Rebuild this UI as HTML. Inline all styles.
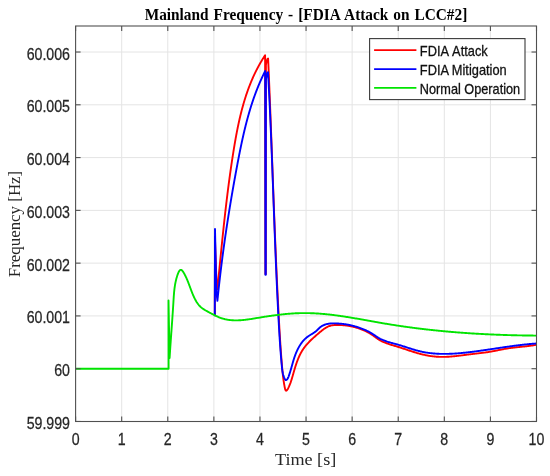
<!DOCTYPE html>
<html><head><meta charset="utf-8"><style>
html,body{margin:0;padding:0;background:#fff;}
body{width:550px;height:476px;overflow:hidden;position:relative;}
svg{position:absolute;left:0;top:0;display:block;filter:blur(0.3px);}
.tk{font-family:"Liberation Sans",Arial,sans-serif;font-size:16.3px;fill:#262626;stroke:#262626;stroke-width:0.25px;}
.lg{font-family:"Liberation Sans",Arial,sans-serif;font-size:14.4px;fill:#111;stroke:#111;stroke-width:0.3px;}
.ttl{font-family:"Liberation Serif","Times New Roman",serif;font-weight:bold;font-size:17.2px;fill:#000;}
.lab{font-family:"Liberation Serif","Times New Roman",serif;font-size:17.4px;fill:#262626;}
</style></head><body>
<svg width="550" height="476" viewBox="0 0 550 476">
<rect x="0" y="0" width="550" height="476" fill="#fff"/>
<g stroke="#e4e4e4" stroke-width="1" fill="none"><line x1="121.69" y1="26.0" x2="121.69" y2="421.5"/><line x1="167.78" y1="26.0" x2="167.78" y2="421.5"/><line x1="213.87" y1="26.0" x2="213.87" y2="421.5"/><line x1="259.96" y1="26.0" x2="259.96" y2="421.5"/><line x1="306.05" y1="26.0" x2="306.05" y2="421.5"/><line x1="352.14" y1="26.0" x2="352.14" y2="421.5"/><line x1="398.23" y1="26.0" x2="398.23" y2="421.5"/><line x1="444.32" y1="26.0" x2="444.32" y2="421.5"/><line x1="490.41" y1="26.0" x2="490.41" y2="421.5"/><line x1="75.6" y1="368.70" x2="536.5" y2="368.70"/><line x1="75.6" y1="315.92" x2="536.5" y2="315.92"/><line x1="75.6" y1="263.14" x2="536.5" y2="263.14"/><line x1="75.6" y1="210.36" x2="536.5" y2="210.36"/><line x1="75.6" y1="157.58" x2="536.5" y2="157.58"/><line x1="75.6" y1="104.80" x2="536.5" y2="104.80"/><line x1="75.6" y1="52.02" x2="536.5" y2="52.02"/></g>
<defs><clipPath id="pa"><rect x="75.6" y="26.0" width="460.90" height="395.50"/></clipPath></defs>
<g fill="none" stroke-linejoin="round" stroke-linecap="round" stroke-width="1.9" clip-path="url(#pa)">
<path d="M214.80,315.33 L215.00,240.00 L216.50,282.00 217.40,289.30 L217.47,288.60 217.54,287.90 217.61,287.19 217.68,286.49 217.75,285.79 217.82,285.09 217.89,284.39 217.95,283.69 218.02,282.99 218.09,282.28 218.16,281.58 218.23,280.88 218.30,280.18 218.37,279.48 218.44,278.78 218.50,278.08 218.57,277.38 218.64,276.68 218.71,275.98 218.78,275.28 218.85,274.58 218.92,273.88 218.98,273.17 219.05,272.47 219.12,271.77 219.19,271.07 219.26,270.37 219.33,269.67 219.40,268.98 219.46,268.28 219.53,267.58 219.60,266.88 219.67,266.18 219.74,265.48 219.81,264.78 219.88,264.08 219.95,263.38 220.01,262.68 220.08,261.98 220.15,261.28 220.22,260.58 220.29,259.88 220.36,259.19 220.43,258.49 220.50,257.79 220.57,257.09 220.64,256.39 220.71,255.69 220.77,254.99 220.84,254.30 220.91,253.60 220.98,252.90 221.05,252.20 221.12,251.50 221.19,250.80 221.26,250.11 221.33,249.41 221.40,248.71 221.47,248.01 221.54,247.31 221.61,246.62 221.68,245.92 221.75,245.22 221.83,244.52 221.90,243.83 221.97,243.13 222.04,242.43 222.11,241.73 222.18,241.04 222.25,240.34 222.32,239.64 222.40,238.94 222.47,238.25 222.54,237.55 222.61,236.85 222.68,236.15 222.76,235.46 222.83,234.76 222.90,234.06 222.98,233.37 223.05,232.67 223.12,231.97 223.20,231.27 223.27,230.58 223.34,229.88 223.42,229.18 223.49,228.49 223.56,227.79 223.64,227.09 223.71,226.40 223.79,225.70 223.86,225.00 223.94,224.31 224.01,223.61 224.09,222.91 224.17,222.22 224.24,221.52 224.32,220.82 224.39,220.13 224.47,219.43 224.55,218.74 224.63,218.04 224.70,217.34 224.78,216.65 224.86,215.95 224.94,215.25 225.01,214.56 225.09,213.86 225.17,213.17 225.25,212.47 225.33,211.77 225.41,211.08 225.49,210.38 225.57,209.68 225.65,208.99 225.73,208.29 225.81,207.60 225.89,206.90 225.97,206.20 226.05,205.51 226.14,204.81 226.22,204.12 226.30,203.42 226.38,202.72 226.47,202.03 226.55,201.33 226.63,200.63 226.72,199.94 226.80,199.24 226.89,198.55 226.97,197.85 227.06,197.15 227.14,196.46 227.23,195.76 227.31,195.07 227.40,194.37 227.49,193.67 227.57,192.98 227.66,192.28 227.75,191.59 227.84,190.89 227.92,190.19 228.01,189.50 228.10,188.80 228.19,188.11 228.28,187.41 228.37,186.71 228.46,186.02 228.55,185.32 228.64,184.63 228.74,183.93 228.83,183.23 228.92,182.54 229.01,181.84 229.10,181.15 229.20,180.45 229.29,179.75 229.39,179.06 229.48,178.36 229.58,177.66 229.67,176.97 229.77,176.27 229.86,175.57 229.96,174.88 230.06,174.18 230.15,173.49 230.25,172.79 230.35,172.09 230.45,171.40 230.55,170.70 230.65,170.00 230.74,169.31 230.85,168.61 230.95,167.91 231.05,167.22 231.15,166.52 231.25,165.82 231.35,165.13 231.46,164.43 231.56,163.73 231.66,163.04 231.77,162.34 231.87,161.64 231.98,160.95 232.08,160.25 232.19,159.55 232.29,158.86 232.40,158.16 232.51,157.46 232.62,156.76 232.72,156.07 232.83,155.37 232.94,154.67 233.05,153.98 233.16,153.28 233.27,152.58 233.38,151.88 233.50,151.19 233.61,150.49 233.72,149.79 233.83,149.09 233.95,148.40 234.06,147.70 234.18,147.00 234.29,146.30 234.41,145.61 234.53,144.91 234.65,144.21 234.77,143.52 234.88,142.82 235.00,142.12 235.13,141.43 235.25,140.73 235.37,140.03 235.49,139.34 235.62,138.64 235.74,137.94 235.87,137.25 236.00,136.55 236.12,135.86 236.25,135.16 236.38,134.47 236.51,133.77 236.65,133.08 236.78,132.38 236.91,131.69 237.05,131.00 237.18,130.30 237.32,129.61 237.46,128.92 237.60,128.23 237.74,127.53 237.88,126.84 238.03,126.15 238.17,125.46 238.32,124.77 238.46,124.08 238.61,123.39 238.76,122.70 238.91,122.01 239.06,121.32 239.22,120.63 239.37,119.95 239.53,119.26 239.68,118.57 239.84,117.89 240.00,117.20 240.17,116.52 240.33,115.83 240.49,115.15 240.66,114.46 240.83,113.78 241.00,113.10 241.17,112.42 241.34,111.73 241.52,111.05 241.69,110.37 241.87,109.69 242.05,109.01 242.23,108.34 242.42,107.66 242.60,106.98 242.79,106.30 242.97,105.63 243.16,104.95 243.36,104.28 243.55,103.61 243.75,102.93 243.94,102.26 244.14,101.59 244.34,100.92 244.55,100.25 244.75,99.58 244.96,98.91 245.17,98.24 245.38,97.58 245.59,96.91 245.81,96.25 246.02,95.58 246.24,94.92 246.46,94.26 246.69,93.59 246.91,92.93 247.14,92.27 247.37,91.61 247.60,90.96 247.84,90.30 248.07,89.64 248.31,88.99 248.55,88.33 248.80,87.68 249.04,87.03 249.29,86.38 249.54,85.73 249.80,85.08 250.05,84.43 250.31,83.78 250.57,83.13 250.83,82.49 251.10,81.84 251.36,81.20 251.63,80.56 251.91,79.92 252.18,79.28 252.46,78.64 252.74,78.00 253.02,77.37 253.31,76.73 253.59,76.10 253.89,75.46 254.18,74.83 254.48,74.20 254.77,73.57 255.08,72.94 255.38,72.32 255.69,71.69 256.00,71.06 256.31,70.44 256.62,69.82 256.94,69.20 257.26,68.58 257.59,67.96 257.92,67.34 258.25,66.73 258.58,66.11 258.91,65.50 259.25,64.89 259.59,64.28 259.94,63.67 260.29,63.06 260.64,62.46 260.99,61.85 261.35,61.25 261.71,60.65 262.07,60.05 262.44,59.45 262.81,58.85 263.18,58.26 263.56,57.66 263.94,57.07 264.32,56.48 264.71,55.89 265.10,55.30 L265.40,274.00 L265.80,274.00 265.90,65.00 266.60,61.00 267.40,59.00 268.10,58.50 L268.13,59.20 268.16,59.90 268.19,60.60 268.23,61.30 268.26,62.00 268.29,62.70 268.32,63.40 268.35,64.10 268.38,64.80 268.41,65.50 268.44,66.20 268.47,66.90 268.51,67.60 268.54,68.30 268.57,69.00 268.60,69.70 268.63,70.40 268.66,71.10 268.69,71.80 268.72,72.50 268.75,73.20 268.78,73.90 268.81,74.60 268.84,75.30 268.87,76.00 268.90,76.70 268.93,77.40 268.96,78.10 268.99,78.80 269.02,79.50 269.05,80.20 269.08,80.90 269.10,81.60 269.13,82.30 269.16,83.00 269.19,83.70 269.22,84.41 269.25,85.11 269.28,85.81 269.31,86.51 269.34,87.21 269.37,87.91 269.40,88.61 269.42,89.31 269.45,90.01 269.48,90.71 269.51,91.41 269.54,92.11 269.57,92.81 269.60,93.51 269.62,94.21 269.65,94.91 269.68,95.61 269.71,96.31 269.74,97.01 269.76,97.71 269.79,98.41 269.82,99.11 269.85,99.81 269.88,100.51 269.90,101.21 269.93,101.92 269.96,102.62 269.99,103.32 270.02,104.02 270.04,104.72 270.07,105.42 270.10,106.12 270.13,106.82 270.15,107.52 270.18,108.22 270.21,108.92 270.24,109.62 270.26,110.32 270.29,111.02 270.32,111.72 270.34,112.42 270.37,113.12 270.40,113.83 270.43,114.53 270.45,115.23 270.48,115.93 270.51,116.63 270.53,117.33 270.56,118.03 270.59,118.73 270.61,119.43 270.64,120.13 270.67,120.83 270.69,121.53 270.72,122.23 270.75,122.93 270.77,123.63 270.80,124.34 270.83,125.04 270.85,125.74 270.88,126.44 270.91,127.14 270.93,127.84 270.96,128.54 270.99,129.24 271.01,129.94 271.04,130.64 271.07,131.34 271.09,132.04 271.12,132.74 271.14,133.44 271.17,134.15 271.20,134.85 271.22,135.55 271.25,136.25 271.28,136.95 271.30,137.65 271.33,138.35 271.35,139.05 271.38,139.75 271.41,140.45 271.43,141.15 271.46,141.85 271.48,142.55 271.51,143.26 271.54,143.96 271.56,144.66 271.59,145.36 271.61,146.06 271.64,146.76 271.67,147.46 271.69,148.16 271.72,148.86 271.74,149.56 271.77,150.26 271.80,150.96 271.82,151.67 271.85,152.37 271.87,153.07 271.90,153.77 271.92,154.47 271.95,155.17 271.98,155.87 272.00,156.57 272.03,157.27 272.05,157.97 272.08,158.67 272.10,159.38 272.13,160.08 272.16,160.78 272.18,161.48 272.21,162.18 272.23,162.88 272.26,163.58 272.28,164.28 272.31,164.98 272.34,165.68 272.36,166.38 272.39,167.08 272.41,167.79 272.44,168.49 272.47,169.19 272.49,169.89 272.52,170.59 272.54,171.29 272.57,171.99 272.59,172.69 272.62,173.39 272.65,174.09 272.67,174.79 272.70,175.50 272.72,176.20 272.75,176.90 272.77,177.60 272.80,178.30 272.83,179.00 272.85,179.70 272.88,180.40 272.90,181.10 272.93,181.80 272.96,182.50 272.98,183.21 273.01,183.91 273.03,184.61 273.06,185.31 273.09,186.01 273.11,186.71 273.14,187.41 273.16,188.11 273.19,188.81 273.22,189.51 273.24,190.21 273.27,190.92 273.29,191.62 273.32,192.32 273.35,193.02 273.37,193.72 273.40,194.42 273.42,195.12 273.45,195.82 273.48,196.52 273.50,197.22 273.53,197.92 273.56,198.63 273.58,199.33 273.61,200.03 273.64,200.73 273.66,201.43 273.69,202.13 273.71,202.83 273.74,203.53 273.77,204.23 273.79,204.93 273.82,205.63 273.85,206.33 273.87,207.04 273.90,207.74 273.93,208.44 273.95,209.14 273.98,209.84 274.01,210.54 274.03,211.24 274.06,211.94 274.09,212.64 274.12,213.34 274.14,214.04 274.17,214.74 274.20,215.45 274.22,216.15 274.25,216.85 274.28,217.55 274.31,218.25 274.33,218.95 274.36,219.65 274.39,220.35 274.41,221.05 274.44,221.75 274.47,222.45 274.50,223.15 274.52,223.86 274.55,224.56 274.58,225.26 274.61,225.96 274.64,226.66 274.66,227.36 274.69,228.06 274.72,228.76 274.75,229.46 274.77,230.16 274.80,230.86 274.83,231.56 274.86,232.26 274.89,232.96 274.92,233.67 274.94,234.37 274.97,235.07 275.00,235.77 275.03,236.47 275.06,237.17 275.09,237.87 275.11,238.57 275.14,239.27 275.17,239.97 275.20,240.67 275.23,241.37 275.26,242.07 275.29,242.77 275.32,243.48 275.34,244.18 275.37,244.88 275.40,245.58 275.43,246.28 275.46,246.98 275.49,247.68 275.52,248.38 275.55,249.08 275.58,249.78 275.61,250.48 275.64,251.18 275.67,251.88 275.70,252.58 275.73,253.28 275.76,253.98 275.79,254.68 275.82,255.39 275.85,256.09 275.88,256.79 275.91,257.49 275.94,258.19 275.97,258.89 276.00,259.59 276.03,260.29 276.06,260.99 276.09,261.69 276.12,262.39 276.15,263.09 276.18,263.79 276.21,264.49 276.24,265.19 276.28,265.89 276.31,266.59 276.34,267.29 276.37,267.99 276.40,268.69 276.43,269.39 276.46,270.09 276.50,270.80 276.53,271.50 276.56,272.20 276.59,272.90 276.62,273.60 276.65,274.30 276.69,275.00 276.72,275.70 276.75,276.40 276.78,277.10 276.82,277.80 276.85,278.50 276.88,279.20 276.91,279.90 276.95,280.60 276.98,281.30 277.01,282.00 277.04,282.70 277.08,283.40 277.11,284.10 277.14,284.80 277.18,285.50 277.21,286.20 277.24,286.90 277.28,287.60 277.31,288.30 277.35,289.00 277.38,289.70 277.41,290.40 277.45,291.10 277.48,291.80 277.52,292.50 277.55,293.20 277.58,293.90 277.62,294.60 277.65,295.30 277.69,296.00 277.72,296.70 277.76,297.40 277.79,298.10 277.83,298.80 277.86,299.50 277.90,300.20 277.93,300.90 277.97,301.60 278.01,302.30 278.04,303.00 278.08,303.70 278.11,304.40 278.15,305.10 278.18,305.80 278.22,306.50 278.26,307.20 278.29,307.90 278.33,308.60 278.37,309.30 278.40,310.00 278.44,310.70 278.48,311.40 278.51,312.10 278.55,312.80 278.59,313.50 278.63,314.20 278.66,314.90 278.70,315.60 278.74,316.30 278.78,317.00 278.81,317.70 278.85,318.40 278.89,319.10 278.93,319.80 278.97,320.50 279.01,321.20 279.04,321.90 279.08,322.60 279.12,323.30 279.16,323.99 279.20,324.69 279.24,325.39 279.28,326.09 279.32,326.79 279.36,327.49 279.40,328.19 279.44,328.89 279.48,329.59 279.52,330.29 279.56,330.99 279.60,331.69 279.64,332.39 279.68,333.09 279.73,333.79 279.77,334.49 279.81,335.19 279.85,335.89 279.90,336.59 279.94,337.29 279.98,337.99 280.03,338.69 280.07,339.38 280.11,340.08 280.16,340.78 280.20,341.48 280.25,342.18 280.29,342.88 280.34,343.58 280.38,344.28 280.43,344.98 280.48,345.68 280.52,346.38 280.57,347.08 280.62,347.78 280.67,348.48 280.72,349.18 280.77,349.88 280.81,350.58 280.86,351.28 280.91,351.98 280.96,352.68 281.02,353.38 281.07,354.08 281.12,354.78 281.17,355.48 281.22,356.18 281.28,356.88 281.33,357.58 281.38,358.28 281.44,358.98 281.49,359.68 281.55,360.38 281.60,361.08 281.66,361.78 281.72,362.48 281.78,363.18 281.83,363.88 281.89,364.58 281.95,365.28 282.01,365.98 282.07,366.68 282.13,367.38 282.19,368.08 282.25,368.78 282.32,369.48 282.38,370.18 282.45,370.88 282.52,371.58 282.59,372.29 282.66,372.99 282.73,373.69 282.81,374.39 282.88,375.09 282.96,375.79 283.05,376.50 283.13,377.20 283.22,377.90 283.31,378.60 283.41,379.31 283.50,380.01 283.60,380.71 283.71,381.42 283.82,382.12 283.93,382.82 284.05,383.53 284.17,384.23 284.29,384.94 284.42,385.64 284.55,386.35 284.69,387.06 284.84,387.76 284.99,388.46 285.15,389.12 285.33,389.71 285.54,390.19 285.77,390.53 286.05,390.69 286.37,390.64 286.72,390.42 287.10,390.03 287.48,389.51 287.87,388.88 288.24,388.17 288.61,387.41 288.96,386.65 289.28,385.89 289.59,385.16 289.88,384.44 290.15,383.74 290.41,383.06 290.65,382.38 290.88,381.72 291.10,381.06 291.31,380.41 291.52,379.77 291.72,379.13 291.91,378.49 292.10,377.85 292.29,377.20 292.47,376.56 292.66,375.91 292.85,375.25 293.04,374.60 293.23,373.94 293.42,373.27 293.61,372.61 293.80,371.94 293.99,371.28 294.18,370.61 294.38,369.94 294.58,369.27 294.78,368.59 294.98,367.92 295.19,367.25 295.40,366.58 295.61,365.90 295.83,365.23 296.05,364.56 296.27,363.89 296.50,363.22 296.73,362.55 296.97,361.89 297.21,361.22 297.46,360.56 297.71,359.90 297.97,359.25 298.23,358.59 298.50,357.94 298.78,357.29 299.06,356.65 299.35,356.01 299.65,355.37 299.96,354.74 300.27,354.12 300.59,353.50 300.92,352.88 301.25,352.27 301.60,351.66 301.95,351.06 302.31,350.47 302.69,349.88 303.07,349.30 303.46,348.72 303.86,348.16 304.27,347.59 304.68,347.04 305.11,346.49 305.54,345.95 305.99,345.41 306.44,344.87 306.89,344.35 307.36,343.82 307.82,343.31 308.30,342.79 308.78,342.28 309.27,341.78 309.76,341.28 310.26,340.78 310.77,340.29 311.27,339.80 311.79,339.31 312.30,338.83 312.82,338.35 313.34,337.87 313.87,337.40 314.40,336.93 314.93,336.46 315.46,335.99 316.00,335.52 316.54,335.06 317.07,334.60 317.61,334.14 318.15,333.67 318.69,333.21 319.23,332.76 319.77,332.30 320.31,331.84 320.86,331.39 321.40,330.94 321.95,330.51 322.50,330.07 323.05,329.65 323.61,329.24 324.18,328.84 324.75,328.45 325.32,328.08 325.91,327.72 326.50,327.38 327.10,327.06 327.70,326.76 328.32,326.47 328.95,326.22 329.59,325.98 330.24,325.77 330.90,325.59 331.58,325.43 332.27,325.31 332.97,325.20 333.67,325.12 334.39,325.06 335.11,325.02 335.83,325.00 336.56,324.98 337.29,324.98 338.01,324.99 338.73,325.00 339.45,325.02 340.17,325.04 340.88,325.08 341.60,325.11 342.31,325.16 343.01,325.21 343.72,325.27 344.42,325.34 345.12,325.41 345.82,325.49 346.51,325.57 347.21,325.67 347.90,325.77 348.59,325.87 349.27,325.99 349.96,326.11 350.64,326.24 351.32,326.37 352.00,326.51 352.68,326.66 353.35,326.82 354.03,326.99 354.70,327.16 355.37,327.34 356.03,327.52 356.70,327.72 357.36,327.92 358.02,328.13 358.68,328.35 359.34,328.57 360.00,328.80 360.66,329.04 361.31,329.29 361.96,329.55 362.61,329.81 363.26,330.08 363.90,330.36 364.55,330.65 365.18,330.94 365.82,331.25 366.45,331.56 367.08,331.88 367.71,332.21 368.33,332.54 368.94,332.89 369.56,333.24 370.17,333.60 370.77,333.97 371.37,334.35 371.96,334.74 372.55,335.14 373.13,335.54 373.71,335.95 374.28,336.37 374.85,336.79 375.42,337.21 375.99,337.63 376.57,338.04 377.14,338.45 377.72,338.85 378.30,339.25 378.88,339.62 379.48,339.99 380.08,340.34 380.69,340.68 381.30,341.01 381.92,341.32 382.54,341.62 383.17,341.92 383.81,342.20 384.44,342.47 385.09,342.73 385.74,342.99 386.39,343.24 387.04,343.48 387.70,343.71 388.36,343.94 389.03,344.16 389.69,344.37 390.36,344.59 391.03,344.79 391.70,345.00 392.38,345.20 393.05,345.40 393.73,345.60 394.40,345.80 395.08,346.00 395.76,346.20 396.43,346.40 397.11,346.60 397.78,346.80 398.46,347.01 399.13,347.22 399.80,347.43 400.47,347.64 401.14,347.86 401.81,348.08 402.48,348.29 403.15,348.51 403.81,348.73 404.48,348.96 405.15,349.18 405.81,349.40 406.48,349.62 407.15,349.85 407.81,350.07 408.48,350.29 409.14,350.51 409.81,350.73 410.47,350.95 411.14,351.17 411.81,351.39 412.47,351.60 413.14,351.82 413.81,352.03 414.48,352.24 415.15,352.44 415.82,352.65 416.49,352.85 417.16,353.04 417.83,353.24 418.51,353.43 419.18,353.61 419.86,353.79 420.53,353.97 421.21,354.15 421.89,354.32 422.57,354.48 423.26,354.64 423.94,354.79 424.62,354.94 425.31,355.09 426.00,355.23 426.68,355.37 427.37,355.50 428.06,355.62 428.75,355.74 429.44,355.86 430.13,355.97 430.82,356.07 431.52,356.17 432.21,356.26 432.90,356.35 433.60,356.43 434.29,356.50 434.99,356.57 435.69,356.63 436.38,356.69 437.08,356.74 437.78,356.78 438.47,356.82 439.17,356.85 439.87,356.88 440.57,356.90 441.27,356.91 441.97,356.92 442.66,356.92 443.36,356.91 444.06,356.90 444.76,356.89 445.46,356.87 446.16,356.84 446.86,356.81 447.56,356.78 448.26,356.74 448.96,356.70 449.66,356.65 450.36,356.60 451.06,356.54 451.76,356.48 452.46,356.42 453.16,356.36 453.86,356.29 454.56,356.22 455.26,356.15 455.96,356.07 456.66,356.00 457.36,355.92 458.06,355.83 458.76,355.75 459.46,355.67 460.16,355.58 460.86,355.49 461.56,355.40 462.26,355.32 462.96,355.23 463.66,355.14 464.36,355.04 465.05,354.95 465.75,354.86 466.45,354.77 467.15,354.68 467.85,354.59 468.54,354.50 469.24,354.41 469.94,354.33 470.63,354.24 471.33,354.16 472.02,354.07 472.72,353.99 473.41,353.91 474.11,353.83 474.80,353.75 475.50,353.67 476.19,353.59 476.89,353.51 477.58,353.43 478.27,353.34 478.97,353.26 479.66,353.18 480.35,353.10 481.04,353.02 481.74,352.93 482.43,352.84 483.12,352.76 483.81,352.67 484.50,352.58 485.19,352.48 485.88,352.39 486.58,352.29 487.27,352.19 487.96,352.09 488.65,351.98 489.34,351.87 490.03,351.76 490.72,351.65 491.41,351.53 492.10,351.41 492.79,351.28 493.48,351.15 494.17,351.02 494.85,350.88 495.54,350.74 496.23,350.60 496.92,350.46 497.61,350.32 498.30,350.18 498.99,350.03 499.68,349.89 500.37,349.75 501.06,349.61 501.75,349.47 502.44,349.33 503.13,349.20 503.83,349.07 504.52,348.94 505.21,348.82 505.90,348.70 506.59,348.58 507.29,348.47 507.98,348.36 508.68,348.26 509.37,348.16 510.07,348.07 510.76,347.97 511.46,347.88 512.15,347.80 512.85,347.71 513.54,347.63 514.24,347.55 514.94,347.47 515.63,347.39 516.33,347.32 517.03,347.24 517.72,347.17 518.42,347.10 519.12,347.02 519.81,346.95 520.51,346.88 521.21,346.81 521.90,346.74 522.60,346.66 523.30,346.59 523.99,346.52 524.69,346.44 525.39,346.37 526.08,346.29 526.78,346.21 527.48,346.13 528.17,346.04 528.87,345.96 529.56,345.87 530.26,345.78 530.95,345.68 531.65,345.59 532.34,345.49 533.04,345.38 533.73,345.27 534.42,345.16 535.12,345.05 535.81,344.93 536.50,344.80" stroke="#ff0000"/>
<path d="M214.80,315.33 L215.00,228.90 L216.40,292.00 217.40,300.80 L217.47,300.10 217.54,299.40 217.61,298.70 217.68,297.99 217.76,297.29 217.83,296.59 217.90,295.89 217.97,295.19 218.05,294.49 218.12,293.79 218.19,293.08 218.27,292.38 218.34,291.68 218.42,290.98 218.49,290.28 218.57,289.58 218.64,288.88 218.72,288.18 218.79,287.48 218.87,286.78 218.95,286.08 219.03,285.38 219.10,284.68 219.18,283.98 219.26,283.28 219.34,282.58 219.42,281.88 219.50,281.18 219.58,280.48 219.66,279.78 219.74,279.08 219.82,278.38 219.90,277.68 219.98,276.98 220.06,276.28 220.15,275.59 220.23,274.89 220.31,274.19 220.40,273.49 220.48,272.79 220.56,272.09 220.65,271.39 220.73,270.69 220.82,270.00 220.90,269.30 220.99,268.60 221.07,267.90 221.16,267.20 221.25,266.50 221.33,265.81 221.42,265.11 221.51,264.41 221.60,263.71 221.68,263.01 221.77,262.32 221.86,261.62 221.95,260.92 222.04,260.22 222.13,259.53 222.22,258.83 222.31,258.13 222.40,257.43 222.49,256.74 222.59,256.04 222.68,255.34 222.77,254.65 222.86,253.95 222.96,253.25 223.05,252.56 223.14,251.86 223.24,251.16 223.33,250.47 223.43,249.77 223.52,249.07 223.62,248.38 223.71,247.68 223.81,246.98 223.90,246.29 224.00,245.59 224.10,244.89 224.19,244.20 224.29,243.50 224.39,242.81 224.49,242.11 224.58,241.41 224.68,240.72 224.78,240.02 224.88,239.33 224.98,238.63 225.08,237.93 225.18,237.24 225.28,236.54 225.38,235.85 225.48,235.15 225.59,234.46 225.69,233.76 225.79,233.06 225.89,232.37 226.00,231.67 226.10,230.98 226.20,230.28 226.31,229.59 226.41,228.89 226.51,228.20 226.62,227.50 226.72,226.81 226.83,226.11 226.93,225.42 227.04,224.72 227.15,224.03 227.25,223.33 227.36,222.64 227.47,221.94 227.57,221.25 227.68,220.56 227.79,219.86 227.90,219.17 228.01,218.47 228.12,217.78 228.22,217.08 228.33,216.39 228.44,215.69 228.55,215.00 228.66,214.31 228.77,213.61 228.89,212.92 229.00,212.22 229.11,211.53 229.22,210.83 229.33,210.14 229.45,209.45 229.56,208.75 229.67,208.06 229.78,207.36 229.90,206.67 230.01,205.98 230.13,205.28 230.24,204.59 230.36,203.89 230.47,203.20 230.59,202.51 230.70,201.81 230.82,201.12 230.93,200.43 231.05,199.73 231.17,199.04 231.28,198.34 231.40,197.65 231.52,196.96 231.64,196.26 231.76,195.57 231.87,194.88 231.99,194.18 232.11,193.49 232.23,192.80 232.35,192.10 232.47,191.41 232.59,190.72 232.71,190.02 232.83,189.33 232.95,188.64 233.08,187.94 233.20,187.25 233.32,186.56 233.44,185.86 233.56,185.17 233.69,184.48 233.81,183.78 233.93,183.09 234.06,182.40 234.18,181.70 234.31,181.01 234.43,180.32 234.55,179.63 234.68,178.93 234.81,178.24 234.93,177.55 235.06,176.85 235.18,176.16 235.31,175.47 235.44,174.77 235.56,174.08 235.69,173.39 235.82,172.69 235.95,172.00 236.07,171.31 236.20,170.62 236.33,169.92 236.46,169.23 236.59,168.54 236.72,167.84 236.85,167.15 236.98,166.46 237.11,165.77 237.24,165.07 237.37,164.38 237.50,163.69 237.63,162.99 237.76,162.30 237.89,161.61 238.03,160.92 238.16,160.22 238.29,159.53 238.43,158.84 238.56,158.14 238.69,157.45 238.83,156.76 238.96,156.07 239.10,155.38 239.23,154.68 239.37,153.99 239.51,153.30 239.65,152.61 239.78,151.92 239.92,151.22 240.06,150.53 240.20,149.84 240.34,149.15 240.48,148.46 240.63,147.77 240.77,147.08 240.91,146.39 241.06,145.70 241.20,145.01 241.34,144.32 241.49,143.63 241.64,142.94 241.78,142.25 241.93,141.56 242.08,140.87 242.23,140.18 242.38,139.49 242.53,138.80 242.69,138.12 242.84,137.43 242.99,136.74 243.15,136.05 243.30,135.37 243.46,134.68 243.62,133.99 243.78,133.31 243.94,132.62 244.10,131.94 244.26,131.25 244.42,130.57 244.59,129.88 244.75,129.20 244.92,128.51 245.08,127.83 245.25,127.15 245.42,126.46 245.59,125.78 245.76,125.10 245.94,124.42 246.11,123.74 246.29,123.05 246.46,122.37 246.64,121.69 246.82,121.01 247.00,120.33 247.18,119.66 247.36,118.98 247.55,118.30 247.73,117.62 247.92,116.94 248.11,116.27 248.29,115.59 248.49,114.91 248.68,114.24 248.87,113.56 249.07,112.89 249.26,112.22 249.46,111.54 249.66,110.87 249.86,110.20 250.06,109.52 250.26,108.85 250.47,108.18 250.68,107.51 250.89,106.84 251.09,106.17 251.31,105.50 251.52,104.83 251.73,104.17 251.95,103.50 252.17,102.83 252.39,102.17 252.61,101.50 252.83,100.84 253.06,100.17 253.28,99.51 253.51,98.85 253.74,98.18 253.97,97.52 254.21,96.86 254.44,96.20 254.68,95.54 254.92,94.88 255.16,94.22 255.40,93.56 255.65,92.91 255.89,92.25 256.14,91.59 256.39,90.94 256.65,90.28 256.90,89.63 257.16,88.98 257.41,88.32 257.67,87.67 257.94,87.02 258.20,86.37 258.47,85.72 258.74,85.07 259.01,84.42 259.28,83.78 259.55,83.13 259.83,82.49 260.11,81.84 260.39,81.20 260.68,80.55 260.96,79.91 261.25,79.27 261.54,78.63 261.83,77.99 262.13,77.35 262.42,76.71 262.72,76.07 263.02,75.43 263.33,74.80 263.63,74.16 263.94,73.53 264.25,72.89 264.57,72.26 264.88,71.63 265.20,71.00 L265.40,274.80 L265.80,274.80 265.90,80.00 266.60,75.00 267.30,73.00 268.00,72.20 L268.04,72.90 268.08,73.60 268.12,74.30 268.16,74.99 268.19,75.69 268.23,76.39 268.27,77.09 268.31,77.79 268.35,78.49 268.38,79.19 268.42,79.89 268.46,80.59 268.50,81.28 268.53,81.98 268.57,82.68 268.61,83.38 268.64,84.08 268.68,84.78 268.72,85.48 268.75,86.18 268.79,86.88 268.82,87.58 268.86,88.28 268.90,88.98 268.93,89.68 268.97,90.38 269.00,91.08 269.04,91.77 269.07,92.47 269.11,93.17 269.14,93.87 269.18,94.57 269.21,95.27 269.25,95.97 269.28,96.67 269.31,97.37 269.35,98.07 269.38,98.77 269.42,99.47 269.45,100.17 269.48,100.87 269.52,101.57 269.55,102.27 269.58,102.97 269.62,103.67 269.65,104.37 269.68,105.07 269.72,105.77 269.75,106.47 269.78,107.17 269.82,107.87 269.85,108.57 269.88,109.27 269.91,109.97 269.94,110.67 269.98,111.37 270.01,112.07 270.04,112.77 270.07,113.47 270.10,114.18 270.14,114.88 270.17,115.58 270.20,116.28 270.23,116.98 270.26,117.68 270.29,118.38 270.32,119.08 270.35,119.78 270.39,120.48 270.42,121.18 270.45,121.88 270.48,122.58 270.51,123.28 270.54,123.98 270.57,124.68 270.60,125.39 270.63,126.09 270.66,126.79 270.69,127.49 270.72,128.19 270.75,128.89 270.78,129.59 270.81,130.29 270.84,130.99 270.87,131.69 270.90,132.39 270.93,133.10 270.96,133.80 270.98,134.50 271.01,135.20 271.04,135.90 271.07,136.60 271.10,137.30 271.13,138.00 271.16,138.70 271.19,139.41 271.22,140.11 271.24,140.81 271.27,141.51 271.30,142.21 271.33,142.91 271.36,143.61 271.39,144.31 271.41,145.02 271.44,145.72 271.47,146.42 271.50,147.12 271.53,147.82 271.55,148.52 271.58,149.22 271.61,149.93 271.64,150.63 271.66,151.33 271.69,152.03 271.72,152.73 271.75,153.43 271.77,154.13 271.80,154.84 271.83,155.54 271.86,156.24 271.88,156.94 271.91,157.64 271.94,158.34 271.97,159.04 271.99,159.75 272.02,160.45 272.05,161.15 272.07,161.85 272.10,162.55 272.13,163.25 272.15,163.96 272.18,164.66 272.21,165.36 272.23,166.06 272.26,166.76 272.29,167.46 272.31,168.17 272.34,168.87 272.37,169.57 272.39,170.27 272.42,170.97 272.45,171.67 272.47,172.38 272.50,173.08 272.53,173.78 272.55,174.48 272.58,175.18 272.60,175.88 272.63,176.59 272.66,177.29 272.68,177.99 272.71,178.69 272.73,179.39 272.76,180.09 272.79,180.80 272.81,181.50 272.84,182.20 272.86,182.90 272.89,183.60 272.92,184.30 272.94,185.01 272.97,185.71 272.99,186.41 273.02,187.11 273.05,187.81 273.07,188.52 273.10,189.22 273.12,189.92 273.15,190.62 273.18,191.32 273.20,192.02 273.23,192.73 273.25,193.43 273.28,194.13 273.30,194.83 273.33,195.53 273.36,196.23 273.38,196.94 273.41,197.64 273.43,198.34 273.46,199.04 273.48,199.74 273.51,200.45 273.54,201.15 273.56,201.85 273.59,202.55 273.61,203.25 273.64,203.95 273.66,204.66 273.69,205.36 273.72,206.06 273.74,206.76 273.77,207.46 273.79,208.16 273.82,208.87 273.85,209.57 273.87,210.27 273.90,210.97 273.92,211.67 273.95,212.37 273.97,213.08 274.00,213.78 274.03,214.48 274.05,215.18 274.08,215.88 274.10,216.58 274.13,217.29 274.16,217.99 274.18,218.69 274.21,219.39 274.23,220.09 274.26,220.79 274.29,221.49 274.31,222.20 274.34,222.90 274.37,223.60 274.39,224.30 274.42,225.00 274.44,225.70 274.47,226.41 274.50,227.11 274.52,227.81 274.55,228.51 274.58,229.21 274.60,229.91 274.63,230.61 274.66,231.32 274.68,232.02 274.71,232.72 274.74,233.42 274.76,234.12 274.79,234.82 274.82,235.52 274.84,236.22 274.87,236.93 274.90,237.63 274.92,238.33 274.95,239.03 274.98,239.73 275.01,240.43 275.03,241.13 275.06,241.83 275.09,242.54 275.11,243.24 275.14,243.94 275.17,244.64 275.20,245.34 275.22,246.04 275.25,246.74 275.28,247.44 275.31,248.14 275.33,248.85 275.36,249.55 275.39,250.25 275.42,250.95 275.45,251.65 275.47,252.35 275.50,253.05 275.53,253.75 275.56,254.45 275.59,255.15 275.62,255.85 275.64,256.56 275.67,257.26 275.70,257.96 275.73,258.66 275.76,259.36 275.79,260.06 275.82,260.76 275.84,261.46 275.87,262.16 275.90,262.86 275.93,263.56 275.96,264.26 275.99,264.96 276.02,265.66 276.05,266.36 276.08,267.06 276.11,267.76 276.14,268.46 276.17,269.17 276.20,269.87 276.23,270.57 276.26,271.27 276.29,271.97 276.32,272.67 276.35,273.37 276.38,274.07 276.41,274.77 276.44,275.47 276.47,276.17 276.50,276.87 276.53,277.57 276.56,278.27 276.59,278.97 276.62,279.67 276.65,280.37 276.68,281.07 276.72,281.77 276.75,282.47 276.78,283.17 276.81,283.87 276.84,284.57 276.87,285.27 276.91,285.97 276.94,286.67 276.97,287.37 277.00,288.06 277.03,288.76 277.07,289.46 277.10,290.16 277.13,290.86 277.16,291.56 277.20,292.26 277.23,292.96 277.26,293.66 277.30,294.36 277.33,295.06 277.36,295.76 277.40,296.46 277.43,297.16 277.46,297.86 277.50,298.55 277.53,299.25 277.56,299.95 277.60,300.65 277.63,301.35 277.67,302.05 277.70,302.75 277.74,303.45 277.77,304.15 277.81,304.85 277.84,305.54 277.88,306.24 277.91,306.94 277.95,307.64 277.98,308.34 278.02,309.04 278.05,309.74 278.09,310.43 278.12,311.13 278.16,311.83 278.20,312.53 278.23,313.23 278.27,313.93 278.31,314.62 278.34,315.32 278.38,316.02 278.42,316.72 278.45,317.42 278.49,318.12 278.53,318.81 278.57,319.51 278.60,320.21 278.64,320.91 278.68,321.60 278.72,322.30 278.76,323.00 278.79,323.70 278.83,324.40 278.87,325.09 278.91,325.79 278.95,326.49 278.99,327.19 279.03,327.89 279.07,328.58 279.11,329.28 279.15,329.98 279.19,330.68 279.23,331.38 279.27,332.08 279.32,332.77 279.36,333.47 279.40,334.17 279.44,334.87 279.49,335.57 279.53,336.27 279.57,336.97 279.62,337.67 279.66,338.37 279.71,339.07 279.75,339.77 279.80,340.47 279.84,341.17 279.89,341.87 279.94,342.58 279.99,343.28 280.03,343.98 280.08,344.68 280.13,345.39 280.18,346.09 280.23,346.79 280.28,347.50 280.33,348.20 280.39,348.90 280.44,349.61 280.49,350.31 280.54,351.02 280.60,351.72 280.65,352.43 280.71,353.14 280.76,353.84 280.82,354.55 280.88,355.26 280.93,355.97 280.99,356.68 281.05,357.39 281.11,358.10 281.17,358.81 281.23,359.52 281.29,360.23 281.36,360.94 281.42,361.65 281.48,362.37 281.55,363.08 281.61,363.79 281.68,364.51 281.75,365.22 281.82,365.94 281.89,366.66 281.96,367.37 282.03,368.08 282.11,368.79 282.20,369.50 282.29,370.20 282.39,370.90 282.51,371.59 282.63,372.28 282.76,372.96 282.90,373.63 283.06,374.29 283.23,374.94 283.42,375.58 283.62,376.21 283.85,376.82 284.09,377.43 284.35,378.01 284.63,378.59 284.93,379.14 285.26,379.63 285.63,379.96 286.05,380.04 286.50,379.87 286.94,379.51 287.35,379.03 287.72,378.45 288.05,377.80 288.36,377.09 288.64,376.36 288.91,375.60 289.17,374.85 289.42,374.11 289.66,373.38 289.89,372.65 290.12,371.94 290.34,371.22 290.55,370.52 290.76,369.82 290.96,369.12 291.16,368.44 291.36,367.75 291.55,367.08 291.74,366.40 291.93,365.73 292.12,365.07 292.30,364.40 292.49,363.74 292.67,363.09 292.86,362.44 293.05,361.78 293.24,361.13 293.43,360.49 293.63,359.84 293.83,359.19 294.04,358.55 294.25,357.90 294.46,357.26 294.68,356.61 294.91,355.96 295.15,355.32 295.39,354.67 295.64,354.02 295.90,353.37 296.16,352.72 296.44,352.07 296.72,351.42 297.01,350.78 297.31,350.14 297.62,349.50 297.94,348.86 298.26,348.23 298.60,347.60 298.94,346.98 299.30,346.37 299.66,345.76 300.03,345.15 300.42,344.56 300.81,343.97 301.21,343.39 301.63,342.82 302.05,342.26 302.49,341.71 302.93,341.17 303.39,340.64 303.86,340.12 304.34,339.62 304.83,339.12 305.33,338.64 305.85,338.18 306.37,337.73 306.91,337.29 307.46,336.87 308.02,336.46 308.59,336.07 309.18,335.68 309.76,335.31 310.36,334.94 310.95,334.57 311.55,334.21 312.15,333.84 312.75,333.47 313.35,333.09 313.94,332.70 314.52,332.30 315.10,331.89 315.66,331.46 316.22,331.01 316.76,330.54 317.28,330.04 317.80,329.54 318.32,329.03 318.83,328.52 319.35,328.02 319.87,327.54 320.41,327.09 320.97,326.67 321.53,326.28 322.12,325.91 322.71,325.58 323.32,325.28 323.94,325.00 324.57,324.75 325.21,324.52 325.86,324.31 326.53,324.13 327.20,323.97 327.87,323.83 328.56,323.71 329.25,323.61 329.95,323.53 330.65,323.46 331.35,323.41 332.06,323.37 332.78,323.35 333.49,323.34 334.21,323.34 334.93,323.35 335.65,323.37 336.37,323.40 337.09,323.43 337.80,323.47 338.52,323.52 339.23,323.58 339.94,323.63 340.64,323.70 341.35,323.77 342.05,323.84 342.75,323.93 343.45,324.01 344.15,324.10 344.84,324.20 345.53,324.31 346.22,324.41 346.91,324.53 347.60,324.65 348.28,324.78 348.97,324.91 349.65,325.04 350.33,325.19 351.01,325.34 351.68,325.49 352.36,325.65 353.03,325.82 353.70,325.99 354.37,326.17 355.04,326.35 355.71,326.55 356.37,326.74 357.04,326.94 357.70,327.15 358.36,327.37 359.03,327.59 359.68,327.81 360.34,328.05 361.00,328.29 361.66,328.53 362.31,328.78 362.96,329.04 363.61,329.31 364.26,329.58 364.91,329.86 365.55,330.14 366.19,330.44 366.83,330.74 367.47,331.05 368.10,331.37 368.73,331.69 369.35,332.03 369.97,332.37 370.59,332.72 371.20,333.08 371.81,333.44 372.42,333.82 373.02,334.21 373.61,334.60 374.20,335.00 374.79,335.40 375.38,335.80 375.97,336.20 376.56,336.60 377.15,336.99 377.75,337.37 378.34,337.74 378.95,338.10 379.55,338.45 380.17,338.78 380.79,339.09 381.41,339.40 382.04,339.69 382.67,339.97 383.31,340.24 383.95,340.49 384.60,340.74 385.25,340.98 385.90,341.21 386.56,341.43 387.22,341.65 387.88,341.85 388.55,342.06 389.21,342.26 389.88,342.45 390.55,342.64 391.23,342.82 391.90,343.01 392.58,343.19 393.26,343.37 393.93,343.55 394.61,343.73 395.29,343.91 395.97,344.10 396.65,344.28 397.33,344.47 398.01,344.66 398.68,344.85 399.36,345.05 400.04,345.25 400.71,345.46 401.39,345.67 402.06,345.88 402.74,346.09 403.41,346.30 404.09,346.52 404.76,346.73 405.44,346.95 406.11,347.17 406.78,347.39 407.46,347.61 408.13,347.82 408.80,348.04 409.48,348.26 410.15,348.47 410.82,348.69 411.50,348.90 412.17,349.11 412.85,349.32 413.52,349.52 414.20,349.72 414.87,349.92 415.55,350.12 416.23,350.31 416.90,350.50 417.58,350.68 418.26,350.86 418.94,351.03 419.62,351.20 420.30,351.36 420.98,351.52 421.66,351.67 422.35,351.82 423.03,351.96 423.72,352.09 424.40,352.22 425.09,352.34 425.77,352.46 426.46,352.58 427.15,352.68 427.84,352.79 428.53,352.88 429.22,352.98 429.91,353.07 430.60,353.15 431.29,353.23 431.98,353.30 432.67,353.37 433.37,353.44 434.06,353.50 434.76,353.55 435.45,353.60 436.15,353.65 436.84,353.69 437.54,353.73 438.23,353.77 438.93,353.80 439.63,353.83 440.33,353.85 441.02,353.87 441.72,353.88 442.42,353.89 443.12,353.90 443.82,353.91 444.52,353.91 445.22,353.90 445.92,353.90 446.62,353.89 447.32,353.87 448.02,353.86 448.72,353.84 449.42,353.82 450.12,353.79 450.82,353.76 451.52,353.73 452.23,353.70 452.93,353.66 453.63,353.62 454.33,353.58 455.03,353.54 455.73,353.49 456.44,353.44 457.14,353.39 457.84,353.33 458.54,353.28 459.24,353.22 459.94,353.16 460.65,353.09 461.35,353.03 462.05,352.96 462.75,352.89 463.45,352.82 464.15,352.75 464.85,352.68 465.55,352.60 466.25,352.53 466.95,352.45 467.65,352.37 468.35,352.29 469.05,352.20 469.75,352.12 470.45,352.04 471.15,351.95 471.84,351.86 472.54,351.78 473.24,351.69 473.94,351.60 474.63,351.51 475.33,351.41 476.03,351.32 476.72,351.23 477.42,351.13 478.11,351.04 478.81,350.94 479.50,350.85 480.20,350.75 480.89,350.65 481.59,350.55 482.28,350.45 482.98,350.36 483.67,350.26 484.36,350.15 485.06,350.05 485.75,349.95 486.45,349.85 487.14,349.75 487.83,349.65 488.52,349.54 489.22,349.44 489.91,349.34 490.60,349.23 491.30,349.13 491.99,349.03 492.68,348.92 493.37,348.82 494.06,348.71 494.76,348.61 495.45,348.50 496.14,348.40 496.83,348.30 497.53,348.19 498.22,348.09 498.91,347.99 499.60,347.88 500.29,347.78 500.99,347.68 501.68,347.57 502.37,347.47 503.06,347.37 503.76,347.27 504.45,347.17 505.14,347.06 505.83,346.96 506.53,346.86 507.22,346.77 507.91,346.67 508.60,346.57 509.30,346.47 509.99,346.37 510.68,346.28 511.38,346.18 512.07,346.09 512.76,346.00 513.46,345.90 514.15,345.81 514.85,345.72 515.54,345.63 516.24,345.54 516.93,345.45 517.63,345.36 518.32,345.28 519.02,345.19 519.71,345.11 520.41,345.02 521.10,344.94 521.80,344.86 522.50,344.78 523.19,344.70 523.89,344.63 524.59,344.55 525.29,344.48 525.99,344.41 526.68,344.33 527.38,344.26 528.08,344.20 528.78,344.13 529.48,344.06 530.18,344.00 530.88,343.94 531.58,343.88 532.28,343.82 532.99,343.76 533.69,343.70 534.39,343.65 535.09,343.60 535.80,343.55 536.50,343.50" stroke="#0000ff"/>
<path d="M75.60,368.70 L168.60,368.70 L168.50,300.40 L169.60,358.00 L169.64,357.29 169.69,356.59 169.73,355.88 169.78,355.18 169.82,354.47 169.87,353.77 169.91,353.07 169.96,352.36 170.01,351.66 170.05,350.96 170.10,350.26 170.15,349.56 170.19,348.85 170.24,348.15 170.29,347.45 170.34,346.75 170.39,346.05 170.43,345.35 170.48,344.65 170.53,343.95 170.58,343.25 170.63,342.56 170.68,341.86 170.73,341.16 170.78,340.46 170.83,339.76 170.87,339.06 170.92,338.37 170.97,337.67 171.02,336.97 171.07,336.27 171.12,335.58 171.17,334.88 171.22,334.18 171.27,333.49 171.32,332.79 171.37,332.09 171.42,331.40 171.47,330.70 171.52,330.00 171.57,329.31 171.62,328.61 171.67,327.91 171.72,327.22 171.77,326.52 171.82,325.82 171.87,325.13 171.92,324.43 171.97,323.73 172.02,323.04 172.07,322.34 172.12,321.64 172.17,320.95 172.22,320.25 172.27,319.55 172.32,318.86 172.36,318.16 172.41,317.46 172.46,316.76 172.51,316.07 172.56,315.37 172.60,314.67 172.65,313.97 172.70,313.27 172.75,312.57 172.79,311.87 172.84,311.18 172.89,310.48 172.93,309.78 172.98,309.08 173.02,308.38 173.07,307.68 173.11,306.97 173.16,306.27 173.20,305.57 173.25,304.87 173.29,304.17 173.33,303.47 173.38,302.76 173.42,302.06 173.46,301.36 173.50,300.65 173.55,299.95 173.59,299.24 173.63,298.54 173.68,297.84 173.73,297.13 173.77,296.42 173.82,295.72 173.88,295.01 173.93,294.31 173.99,293.60 174.05,292.90 174.11,292.19 174.18,291.49 174.25,290.78 174.33,290.07 174.41,289.37 174.49,288.66 174.58,287.96 174.68,287.25 174.78,286.55 174.88,285.84 175.00,285.14 175.11,284.43 175.24,283.73 175.37,283.03 175.51,282.32 175.66,281.62 175.82,280.92 175.98,280.22 176.16,279.52 176.34,278.82 176.53,278.12 176.73,277.42 176.94,276.72 177.16,276.02 177.39,275.32 177.63,274.62 177.88,273.93 178.14,273.25 178.41,272.60 178.70,271.98 178.99,271.42 179.30,270.92 179.62,270.50 179.95,270.17 180.30,269.94 180.65,269.83 181.02,269.84 181.40,269.97 181.79,270.21 182.18,270.57 182.57,271.02 182.96,271.54 183.34,272.13 183.72,272.75 184.09,273.39 184.44,274.03 184.79,274.68 185.13,275.33 185.46,275.99 185.77,276.64 186.08,277.30 186.39,277.96 186.68,278.62 186.97,279.29 187.25,279.95 187.53,280.62 187.80,281.29 188.07,281.95 188.33,282.62 188.59,283.29 188.84,283.97 189.09,284.64 189.35,285.31 189.59,285.98 189.84,286.65 190.09,287.32 190.34,287.99 190.58,288.67 190.83,289.34 191.08,290.00 191.33,290.67 191.59,291.34 191.84,292.01 192.10,292.67 192.37,293.33 192.64,293.99 192.91,294.65 193.19,295.31 193.48,295.97 193.77,296.62 194.07,297.27 194.38,297.91 194.70,298.55 195.02,299.19 195.35,299.82 195.70,300.44 196.05,301.05 196.41,301.65 196.78,302.25 197.17,302.83 197.56,303.40 197.97,303.95 198.39,304.49 198.82,305.02 199.27,305.53 199.73,306.03 200.21,306.50 200.70,306.96 201.20,307.40 201.71,307.82 202.24,308.23 202.79,308.63 203.34,309.01 203.90,309.38 204.47,309.75 205.06,310.10 205.65,310.45 206.25,310.79 206.85,311.13 207.46,311.46 208.08,311.80 208.70,312.13 209.33,312.47 209.96,312.80 210.59,313.14 211.23,313.48 211.87,313.82 212.51,314.16 213.16,314.50 213.80,314.83 214.46,315.16 215.11,315.49 215.76,315.81 216.42,316.12 217.08,316.42 217.74,316.72 218.41,317.01 219.07,317.28 219.74,317.55 220.40,317.80 221.07,318.04 221.74,318.27 222.41,318.48 223.08,318.68 223.76,318.87 224.43,319.04 225.10,319.21 225.78,319.36 226.46,319.50 227.13,319.63 227.81,319.74 228.49,319.85 229.17,319.95 229.85,320.03 230.53,320.11 231.21,320.17 231.90,320.23 232.58,320.28 233.27,320.31 233.95,320.34 234.64,320.36 235.32,320.38 236.01,320.38 236.70,320.38 237.39,320.36 238.08,320.35 238.77,320.32 239.46,320.29 240.15,320.25 240.84,320.21 241.53,320.15 242.22,320.10 242.92,320.04 243.61,319.97 244.30,319.90 245.00,319.82 245.69,319.74 246.39,319.65 247.08,319.56 247.78,319.47 248.48,319.38 249.17,319.28 249.87,319.17 250.57,319.07 251.26,318.96 251.96,318.85 252.66,318.74 253.36,318.63 254.06,318.51 254.75,318.40 255.45,318.28 256.15,318.17 256.85,318.05 257.55,317.93 258.25,317.82 258.95,317.70 259.64,317.58 260.34,317.47 261.04,317.35 261.74,317.24 262.44,317.13 263.14,317.02 263.84,316.90 264.54,316.79 265.24,316.68 265.94,316.58 266.64,316.47 267.34,316.36 268.03,316.26 268.73,316.15 269.43,316.05 270.13,315.94 270.83,315.84 271.53,315.74 272.23,315.64 272.93,315.55 273.63,315.45 274.33,315.36 275.03,315.26 275.73,315.17 276.43,315.08 277.13,314.99 277.83,314.90 278.52,314.82 279.22,314.73 279.92,314.65 280.62,314.57 281.32,314.49 282.02,314.41 282.72,314.34 283.42,314.26 284.12,314.19 284.82,314.12 285.52,314.05 286.22,313.99 286.91,313.92 287.61,313.86 288.31,313.80 289.01,313.74 289.71,313.69 290.41,313.63 291.11,313.58 291.81,313.53 292.50,313.49 293.20,313.44 293.90,313.40 294.60,313.36 295.30,313.32 296.00,313.29 296.69,313.26 297.39,313.23 298.09,313.20 298.79,313.18 299.49,313.16 300.18,313.14 300.88,313.12 301.58,313.11 302.28,313.10 302.97,313.09 303.67,313.08 304.37,313.08 305.07,313.08 305.76,313.09 306.46,313.09 307.16,313.10 307.85,313.11 308.55,313.12 309.25,313.14 309.94,313.16 310.64,313.18 311.34,313.20 312.03,313.23 312.73,313.26 313.43,313.29 314.12,313.32 314.82,313.36 315.51,313.39 316.21,313.43 316.91,313.48 317.60,313.52 318.30,313.57 318.99,313.61 319.69,313.66 320.38,313.72 321.08,313.77 321.77,313.83 322.47,313.89 323.16,313.95 323.86,314.01 324.56,314.07 325.25,314.14 325.95,314.21 326.64,314.28 327.34,314.35 328.03,314.42 328.73,314.50 329.42,314.57 330.11,314.65 330.81,314.73 331.50,314.81 332.20,314.89 332.89,314.98 333.59,315.06 334.28,315.15 334.98,315.24 335.67,315.33 336.37,315.42 337.06,315.52 337.75,315.61 338.45,315.71 339.14,315.80 339.84,315.90 340.53,316.00 341.23,316.10 341.92,316.20 342.61,316.31 343.31,316.41 344.00,316.51 344.70,316.62 345.39,316.73 346.08,316.84 346.78,316.95 347.47,317.06 348.16,317.17 348.86,317.28 349.55,317.39 350.25,317.50 350.94,317.62 351.63,317.73 352.33,317.85 353.02,317.97 353.71,318.08 354.41,318.20 355.10,318.32 355.80,318.44 356.49,318.56 357.18,318.68 357.88,318.80 358.57,318.92 359.26,319.04 359.96,319.16 360.65,319.28 361.34,319.41 362.04,319.53 362.73,319.65 363.43,319.78 364.12,319.90 364.81,320.02 365.51,320.15 366.20,320.27 366.89,320.40 367.59,320.52 368.28,320.65 368.97,320.77 369.67,320.89 370.36,321.02 371.06,321.14 371.75,321.27 372.44,321.39 373.14,321.52 373.83,321.64 374.52,321.76 375.22,321.89 375.91,322.01 376.61,322.13 377.30,322.26 377.99,322.38 378.69,322.50 379.38,322.62 380.07,322.74 380.77,322.86 381.46,322.98 382.16,323.10 382.85,323.22 383.54,323.34 384.24,323.46 384.93,323.58 385.63,323.69 386.32,323.81 387.02,323.93 387.71,324.04 388.40,324.15 389.10,324.27 389.79,324.38 390.49,324.49 391.18,324.60 391.88,324.71 392.57,324.82 393.26,324.93 393.96,325.04 394.65,325.15 395.35,325.26 396.04,325.36 396.74,325.47 397.43,325.58 398.13,325.68 398.82,325.79 399.52,325.89 400.21,325.99 400.91,326.09 401.60,326.20 402.30,326.30 402.99,326.40 403.69,326.50 404.38,326.60 405.08,326.69 405.77,326.79 406.47,326.89 407.16,326.99 407.86,327.08 408.55,327.18 409.25,327.27 409.94,327.37 410.64,327.46 411.33,327.55 412.03,327.65 412.72,327.74 413.42,327.83 414.12,327.92 414.81,328.01 415.51,328.10 416.20,328.19 416.90,328.27 417.59,328.36 418.29,328.45 418.99,328.53 419.68,328.62 420.38,328.70 421.07,328.79 421.77,328.87 422.47,328.96 423.16,329.04 423.86,329.12 424.55,329.20 425.25,329.28 425.95,329.36 426.64,329.44 427.34,329.52 428.03,329.60 428.73,329.68 429.43,329.76 430.12,329.83 430.82,329.91 431.52,329.98 432.21,330.06 432.91,330.13 433.61,330.21 434.30,330.28 435.00,330.35 435.70,330.43 436.39,330.50 437.09,330.57 437.79,330.64 438.48,330.71 439.18,330.78 439.88,330.85 440.58,330.91 441.27,330.98 441.97,331.05 442.67,331.12 443.36,331.18 444.06,331.25 444.76,331.31 445.46,331.38 446.15,331.44 446.85,331.50 447.55,331.57 448.25,331.63 448.94,331.69 449.64,331.75 450.34,331.81 451.04,331.87 451.73,331.93 452.43,331.99 453.13,332.05 453.83,332.11 454.52,332.16 455.22,332.22 455.92,332.28 456.62,332.33 457.32,332.39 458.01,332.44 458.71,332.50 459.41,332.55 460.11,332.60 460.81,332.66 461.51,332.71 462.20,332.76 462.90,332.81 463.60,332.86 464.30,332.91 465.00,332.96 465.70,333.01 466.39,333.06 467.09,333.11 467.79,333.15 468.49,333.20 469.19,333.25 469.89,333.29 470.59,333.34 471.29,333.38 471.99,333.43 472.68,333.47 473.38,333.52 474.08,333.56 474.78,333.60 475.48,333.64 476.18,333.68 476.88,333.73 477.58,333.77 478.28,333.81 478.98,333.85 479.68,333.89 480.38,333.92 481.08,333.96 481.78,334.00 482.48,334.04 483.18,334.07 483.87,334.11 484.57,334.15 485.27,334.18 485.97,334.22 486.67,334.25 487.37,334.29 488.07,334.32 488.77,334.35 489.47,334.38 490.17,334.42 490.88,334.45 491.58,334.48 492.28,334.51 492.98,334.54 493.68,334.57 494.38,334.60 495.08,334.63 495.78,334.66 496.48,334.69 497.18,334.71 497.88,334.74 498.58,334.77 499.28,334.79 499.98,334.82 500.68,334.85 501.38,334.87 502.09,334.90 502.79,334.92 503.49,334.94 504.19,334.97 504.89,334.99 505.59,335.01 506.29,335.03 506.99,335.06 507.70,335.08 508.40,335.10 509.10,335.12 509.80,335.14 510.50,335.16 511.20,335.18 511.91,335.19 512.61,335.21 513.31,335.23 514.01,335.25 514.71,335.27 515.42,335.28 516.12,335.30 516.82,335.31 517.52,335.33 518.22,335.34 518.93,335.36 519.63,335.37 520.33,335.39 521.03,335.40 521.74,335.41 522.44,335.43 523.14,335.44 523.84,335.45 524.55,335.46 525.25,335.47 525.95,335.48 526.65,335.49 527.36,335.50 528.06,335.51 528.76,335.52 529.47,335.53 530.17,335.54 530.87,335.55 531.58,335.56 532.28,335.56 532.98,335.57 533.69,335.58 534.39,335.58 535.09,335.59 535.80,335.59 536.50,335.60" stroke="#00e400"/>
</g>
<g stroke="#505050" stroke-width="1.1" fill="none">
<rect x="75.6" y="26.0" width="460.90" height="395.50"/>
<line x1="75.60" y1="421.5" x2="75.60" y2="416.5"/><line x1="75.60" y1="26.0" x2="75.60" y2="31.0"/><line x1="121.69" y1="421.5" x2="121.69" y2="416.5"/><line x1="121.69" y1="26.0" x2="121.69" y2="31.0"/><line x1="167.78" y1="421.5" x2="167.78" y2="416.5"/><line x1="167.78" y1="26.0" x2="167.78" y2="31.0"/><line x1="213.87" y1="421.5" x2="213.87" y2="416.5"/><line x1="213.87" y1="26.0" x2="213.87" y2="31.0"/><line x1="259.96" y1="421.5" x2="259.96" y2="416.5"/><line x1="259.96" y1="26.0" x2="259.96" y2="31.0"/><line x1="306.05" y1="421.5" x2="306.05" y2="416.5"/><line x1="306.05" y1="26.0" x2="306.05" y2="31.0"/><line x1="352.14" y1="421.5" x2="352.14" y2="416.5"/><line x1="352.14" y1="26.0" x2="352.14" y2="31.0"/><line x1="398.23" y1="421.5" x2="398.23" y2="416.5"/><line x1="398.23" y1="26.0" x2="398.23" y2="31.0"/><line x1="444.32" y1="421.5" x2="444.32" y2="416.5"/><line x1="444.32" y1="26.0" x2="444.32" y2="31.0"/><line x1="490.41" y1="421.5" x2="490.41" y2="416.5"/><line x1="490.41" y1="26.0" x2="490.41" y2="31.0"/><line x1="536.50" y1="421.5" x2="536.50" y2="416.5"/><line x1="536.50" y1="26.0" x2="536.50" y2="31.0"/><line x1="75.6" y1="421.48" x2="80.6" y2="421.48"/><line x1="536.5" y1="421.48" x2="531.5" y2="421.48"/><line x1="75.6" y1="368.70" x2="80.6" y2="368.70"/><line x1="536.5" y1="368.70" x2="531.5" y2="368.70"/><line x1="75.6" y1="315.92" x2="80.6" y2="315.92"/><line x1="536.5" y1="315.92" x2="531.5" y2="315.92"/><line x1="75.6" y1="263.14" x2="80.6" y2="263.14"/><line x1="536.5" y1="263.14" x2="531.5" y2="263.14"/><line x1="75.6" y1="210.36" x2="80.6" y2="210.36"/><line x1="536.5" y1="210.36" x2="531.5" y2="210.36"/><line x1="75.6" y1="157.58" x2="80.6" y2="157.58"/><line x1="536.5" y1="157.58" x2="531.5" y2="157.58"/><line x1="75.6" y1="104.80" x2="80.6" y2="104.80"/><line x1="536.5" y1="104.80" x2="531.5" y2="104.80"/><line x1="75.6" y1="52.02" x2="80.6" y2="52.02"/><line x1="536.5" y1="52.02" x2="531.5" y2="52.02"/>
</g>
<g class="tk"><text transform="translate(75.60,444.7) scale(0.87,1)" text-anchor="middle">0</text><text transform="translate(121.69,444.7) scale(0.87,1)" text-anchor="middle">1</text><text transform="translate(167.78,444.7) scale(0.87,1)" text-anchor="middle">2</text><text transform="translate(213.87,444.7) scale(0.87,1)" text-anchor="middle">3</text><text transform="translate(259.96,444.7) scale(0.87,1)" text-anchor="middle">4</text><text transform="translate(306.05,444.7) scale(0.87,1)" text-anchor="middle">5</text><text transform="translate(352.14,444.7) scale(0.87,1)" text-anchor="middle">6</text><text transform="translate(398.23,444.7) scale(0.87,1)" text-anchor="middle">7</text><text transform="translate(444.32,444.7) scale(0.87,1)" text-anchor="middle">8</text><text transform="translate(490.41,444.7) scale(0.87,1)" text-anchor="middle">9</text><text transform="translate(536.50,444.7) scale(0.87,1)" text-anchor="middle">10</text><text transform="translate(70,428.98) scale(0.87,1)" text-anchor="end">59.999</text><text transform="translate(70,376.20) scale(0.87,1)" text-anchor="end">60</text><text transform="translate(70,323.42) scale(0.87,1)" text-anchor="end">60.001</text><text transform="translate(70,270.64) scale(0.87,1)" text-anchor="end">60.002</text><text transform="translate(70,217.86) scale(0.87,1)" text-anchor="end">60.003</text><text transform="translate(70,165.08) scale(0.87,1)" text-anchor="end">60.004</text><text transform="translate(70,112.30) scale(0.87,1)" text-anchor="end">60.005</text><text transform="translate(70,59.52) scale(0.87,1)" text-anchor="end">60.006</text></g>
<g>
<rect x="369.6" y="38.6" width="155.4" height="61" fill="#fff" stroke="#3a3a3a" stroke-width="1.1"/>
<line x1="374.1" y1="50.1" x2="416.4" y2="50.1" stroke="#ff0000" stroke-width="1.8"/>
<line x1="374.1" y1="69.1" x2="416.4" y2="69.1" stroke="#0000ff" stroke-width="1.8"/>
<line x1="374.1" y1="87.9" x2="416.4" y2="87.9" stroke="#00e400" stroke-width="1.8"/>
<text class="lg" transform="translate(419.8,55.8) scale(0.89,1)" style="word-spacing:1.1px">FDIA Attack</text>
<text class="lg" transform="translate(419.8,74.8) scale(0.89,1)">FDIA Mitigation</text>
<text class="lg" transform="translate(419.8,93.6) scale(0.884,1)">Normal Operation</text>
</g>
<text class="ttl" transform="translate(306,19.6) scale(0.892,1)" text-anchor="middle" style="word-spacing:1.3px">Mainland Frequency - [FDIA Attack on LCC#2]</text>
<text class="lab" transform="translate(305.6,464.8) scale(1.025,1)" text-anchor="middle" style="font-size:17.7px">Time [s]</text>
<text class="lab" transform="translate(20.0,224) rotate(-90)" text-anchor="middle" style="font-size:16.9px">Frequency [Hz]</text>
</svg>
</body></html>
